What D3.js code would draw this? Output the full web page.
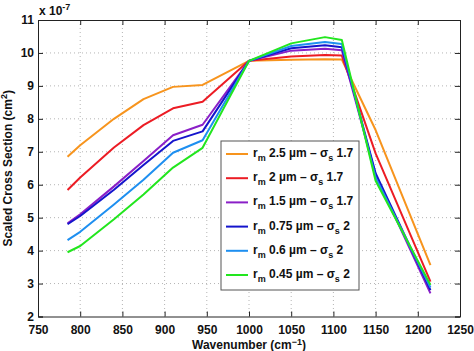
<!DOCTYPE html>
<html>
<head>
<meta charset="utf-8">
<script src="https://cdn.jsdelivr.net/npm/d3@7"></script>
<style>
  body { margin: 0; background: #fff; }
  svg { display: block; font-family: "Liberation Sans", Arial, sans-serif; }
</style>
</head>
<body>
<svg id="chart"></svg>
<script>
// Data (values in units of 1e-7 cm^2)
const wavenumbers = [785, 800, 840, 875, 910, 945, 1000, 1050, 1090, 1110, 1150, 1215];
const seriesNames = ["2.5", "2", "1.5", "0.75", "0.6", "0.45"];
const sigmaNames = ["1.7", "1.7", "1.7", "2", "2", "2"];
const orangeVals = [6.85, 7.2, 8.0, 8.6, 8.97, 9.03, 9.76, 9.79, 9.81, 9.8, 7.66, 3.56];
const redVals = [5.84, 6.22, 7.13, 7.81, 8.32, 8.52, 9.76, 9.89, 9.94, 9.92, 6.95, 3.06];
const purpleVals = [4.83, 5.1, 5.95, 6.72, 7.5, 7.82, 9.76, 10.07, 10.13, 10.08, 6.3, 2.7];
const blueVals = [4.8, 5.05, 5.85, 6.6, 7.33, 7.62, 9.76, 10.14, 10.23, 10.17, 6.35, 2.8];
const lightBlueVals = [4.32, 4.57, 5.4, 6.15, 6.97, 7.35, 9.76, 10.21, 10.33, 10.27, 6.22, 2.88];
const greenVals = [3.95, 4.14, 4.95, 5.7, 6.52, 7.12, 9.76, 10.29, 10.48, 10.39, 6.12, 2.96];
const allVals = [orangeVals, redVals, purpleVals, blueVals, lightBlueVals, greenVals];
const colors = ["#f7941d", "#ec1c24", "#8a1fc7", "#1414cc", "#1e8ff0", "#22e61e"];
const xTicks = [750, 800, 850, 900, 950, 1000, 1050, 1100, 1150, 1200, 1250];
const yTicks = [2, 3, 4, 5, 6, 7, 8, 9, 10, 11];

const config = {
  width: 474,
  height: 351,
  margin: {top: 20, right: 14, bottom: 34.5, left: 38}
};

const svg = d3.select("#chart")
  .attr("width", config.width)
  .attr("height", config.height);

const innerW = config.width - config.margin.left - config.margin.right;
const innerH = config.height - config.margin.top - config.margin.bottom;

const g = svg.append("g")
  .attr("transform", `translate(${config.margin.left}, ${config.margin.top})`);

const x = d3.scaleLinear().domain([750, 1250]).range([0, innerW]);
const y = d3.scaleLinear().domain([2, 11]).range([innerH, 0]);

// grid
g.append("g").selectAll("line")
  .data(xTicks.slice(1, -1))
  .join("line")
  .attr("x1", d => x(d)).attr("x2", d => x(d))
  .attr("y1", 0).attr("y2", innerH)
  .attr("stroke", "#b4b4b4").attr("stroke-width", 1)
  .attr("stroke-dasharray", "1,3");
g.append("g").selectAll("line")
  .data(yTicks.slice(1, -1))
  .join("line")
  .attr("x1", 0).attr("x2", innerW)
  .attr("y1", d => y(d)).attr("y2", d => y(d))
  .attr("stroke", "#b4b4b4").attr("stroke-width", 1)
  .attr("stroke-dasharray", "1,3");

// axes (inward ticks, MATLAB style)
const fmt = d3.format("d");
const xAxis = g.append("g").attr("transform", `translate(0, ${innerH})`)
  .call(d3.axisBottom(x).tickValues(xTicks).tickSize(-5).tickPadding(9).tickFormat(fmt));
const xTop = g.append("g")
  .call(d3.axisTop(x).tickValues(xTicks).tickSize(-5).tickFormat(""));
const yAxis = g.append("g")
  .call(d3.axisLeft(y).tickValues(yTicks).tickSize(-5).tickPadding(4).tickFormat(fmt));
const yRight = g.append("g").attr("transform", `translate(${innerW}, 0)`)
  .call(d3.axisRight(y).tickValues(yTicks).tickSize(-5).tickFormat(""));

[xAxis, xTop, yAxis, yRight].forEach(a => {
  a.select(".domain").attr("stroke", "#222").attr("stroke-width", 1);
  a.selectAll(".tick line").attr("stroke", "#222");
  a.selectAll("text")
    .attr("fill", "#111")
    .attr("font-size", "12px")
    .attr("font-weight", "bold")
    .attr("font-family", "Liberation Sans, Arial, sans-serif");
});

// lines
const line = d3.line()
  .x((d, i) => x(wavenumbers[i]))
  .y(d => y(d));

g.append("g").selectAll("path")
  .data(allVals)
  .join("path")
  .attr("d", line)
  .attr("fill", "none")
  .attr("stroke", (d, i) => colors[i])
  .attr("stroke-width", 2)
  .attr("stroke-linejoin", "round");

// exponent label
const expo = svg.append("text")
  .attr("x", 39).attr("y", 15)
  .attr("font-size", "12px").attr("font-weight", "bold").attr("fill", "#111");
expo.append("tspan").text("x 10");
expo.append("tspan").attr("dy", -5).attr("font-size", "9px").text("-7");

// axis labels
const xl = svg.append("text")
  .attr("x", config.margin.left + innerW / 2).attr("y", 348.5)
  .attr("text-anchor", "middle")
  .attr("font-size", "12px").attr("font-weight", "bold").attr("fill", "#111");
xl.append("tspan").text("Wavenumber (cm");
xl.append("tspan").attr("dy", -4).attr("font-size", "9px").text("\u22121");
xl.append("tspan").attr("dy", 4).text(")");

const yl = svg.append("text")
  .attr("transform", `translate(12, ${config.margin.top + innerH / 2}) rotate(-90)`)
  .attr("text-anchor", "middle")
  .attr("font-size", "12px").attr("font-weight", "bold").attr("fill", "#111");
yl.append("tspan").text("Scaled Cross Section (cm");
yl.append("tspan").attr("dy", -5).attr("font-size", "9px").text("2");
yl.append("tspan").attr("dy", 5).text(")");

// legend
const legend = svg.append("g").attr("transform", "translate(221, 141)");
legend.append("rect")
  .attr("width", 138).attr("height", 149)
  .attr("fill", "#fff").attr("stroke", "#555").attr("stroke-width", 1);

const rows = legend.selectAll(".row")
  .data(seriesNames)
  .join("g")
  .attr("class", "row")
  .attr("transform", (d, i) => `translate(0, ${13 + i * 24.2})`);

rows.append("line")
  .attr("x1", 5).attr("x2", 27)
  .attr("stroke", (d, i) => colors[i]).attr("stroke-width", 2);

const lt = rows.append("text")
  .attr("x", 32).attr("y", 3)
  .attr("font-size", "12px").attr("font-weight", "bold").attr("fill", "#111");
lt.append("tspan").text("r");
lt.append("tspan").attr("dy", 4).attr("font-size", "9px").text("m");
lt.append("tspan").attr("dy", -4).text(d => ` ${d} \u00b5m \u2013 \u03c3`);
lt.append("tspan").attr("dy", 4).attr("font-size", "9px").text("s");
lt.append("tspan").attr("dy", -4).text((d, i) => ` ${sigmaNames[i]}`);
</script>
</body>
</html>
